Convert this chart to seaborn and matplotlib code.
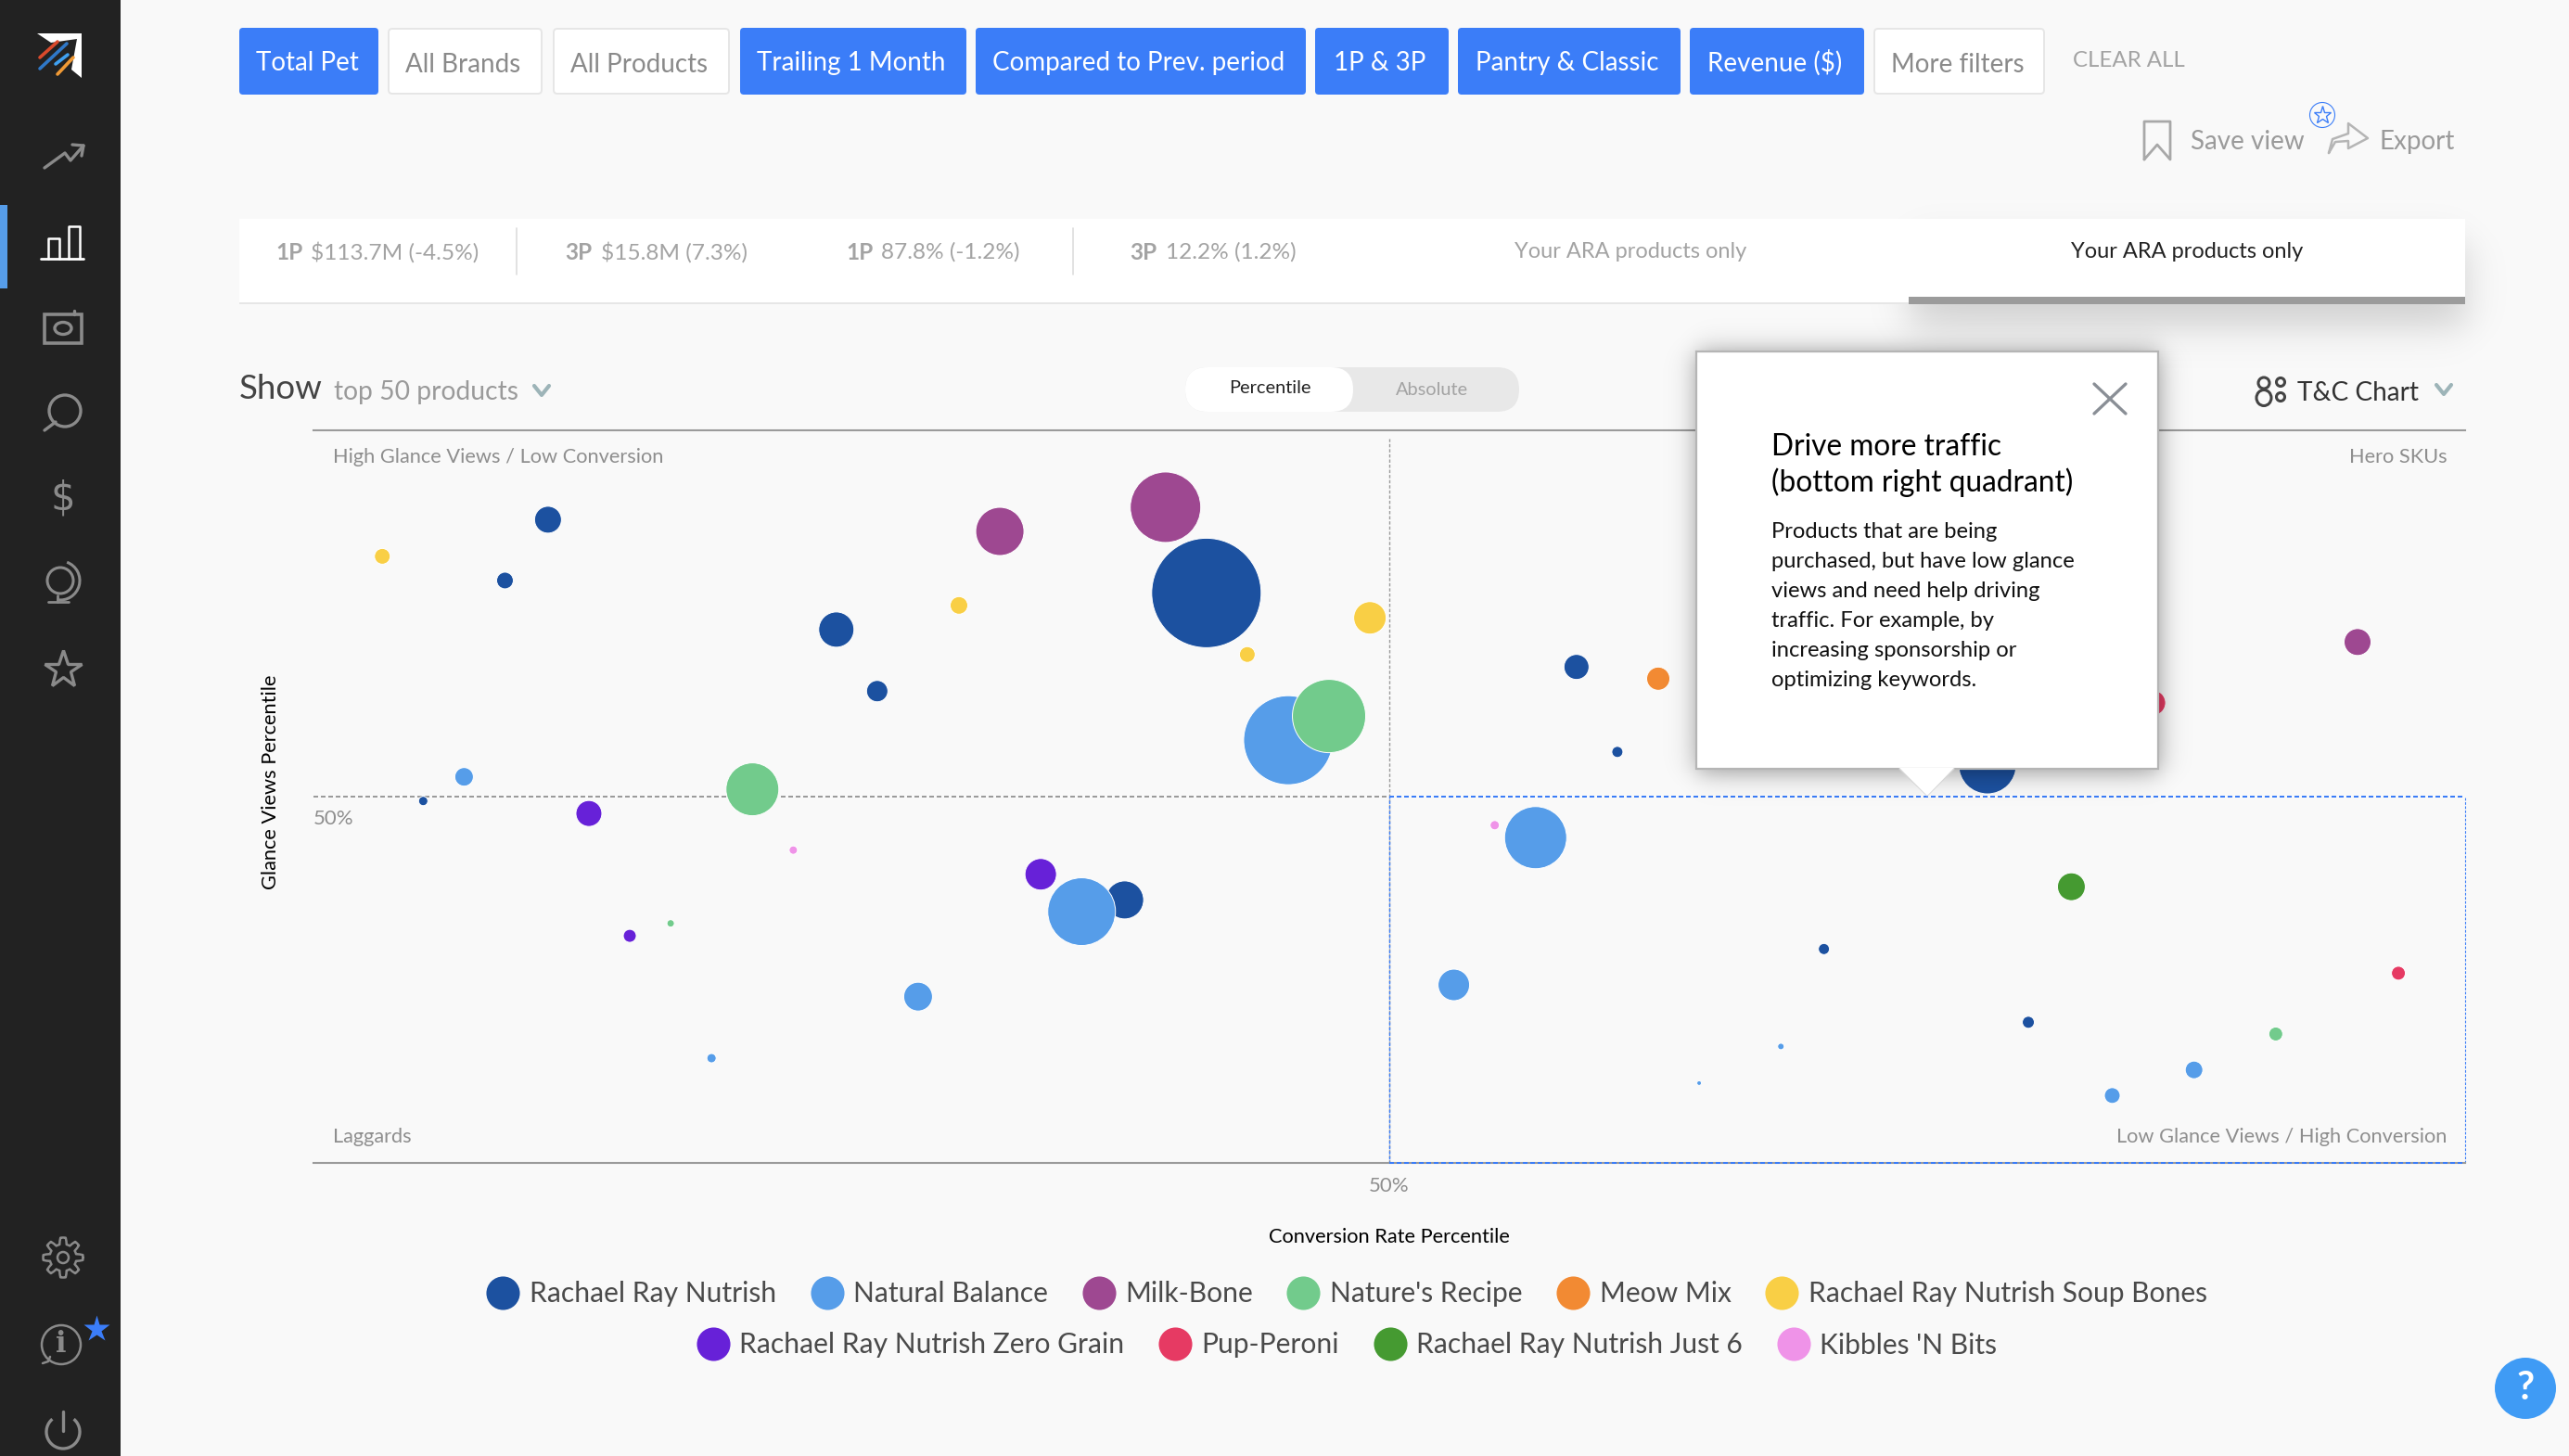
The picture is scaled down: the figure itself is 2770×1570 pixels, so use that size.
#Import Libraries
import numpy as np
import pandas as pd
import matplotlib
matplotlib.use("Agg")
import matplotlib.pyplot as plt
import seaborn as sns
from matplotlib.lines import Line2D
from matplotlib.patches import Circle, FancyBboxPatch, Polygon, Rectangle, Ellipse, Arc

#Chart data: percentile x, percentile y, bubble diameter for each brand
brands = ["Rachael Ray Nutrish", "Natural Balance", "Milk-Bone", "Nature's Recipe", "Meow Mix",
          "Rachael Ray Nutrish Soup Bones", "Rachael Ray Nutrish Zero Grain", "Pup-Peroni",
          "Rachael Ray Nutrish Just 6", "Kibbles 'N Bits"]
brand_colors = ["#1C51A0", "#569DE9", "#9E4891", "#72CB8C", "#F28A33",
                "#F9CF45", "#6721D8", "#E63A63", "#459A31", "#EF93E8"]

nutrish_x = [10.9, 8.9, 41.5, 24.3, 26.2, 5.1, 37.7, 58.7, 60.6, 77.8, 70.2, 79.7]
nutrish_y = [87.8, 79.5, 77.8, 72.8, 64.4, 49.4, 35.9, 67.7, 56.1, 54.3, 29.2, 19.2]
nutrish_size = [29, 18, 118, 38, 23, 10, 41, 27, 12, 62, 12, 13]

balance_x = [45.3, 7.0, 35.7, 28.1, 18.5, 56.8, 53.0, 68.2, 87.4, 83.6, 64.4]
balance_y = [57.7, 52.7, 34.3, 22.7, 14.3, 44.4, 24.3, 15.9, 12.7, 9.2, 10.9]
balance_size = [96, 20, 73, 31, 10, 67, 34, 7, 19, 17, 5]

milkbone_x = [39.6, 31.9, 95.0]
milkbone_y = [89.5, 86.2, 71.1]
milkbone_size = [76, 52, 29]

recipe_x = [47.2, 20.4, 16.6, 91.2]
recipe_y = [61.0, 51.0, 32.7, 17.6]
recipe_size = [79, 57, 8, 15]

meow_x = [62.5]
meow_y = [66.1]
meow_size = [25]

soup_x = [3.2, 30.0, 49.1, 43.4]
soup_y = [82.8, 76.1, 74.4, 69.4]
soup_size = [17, 19, 35, 17]

zero_x = [12.8, 33.8, 14.7]
zero_y = [47.7, 39.4, 31.0]
zero_size = [28, 34, 14]

peroni_x = [85.5, 96.9]
peroni_y = [62.8, 25.9]
peroni_size = [27, 15]

just6_x = [81.7]
just6_y = [37.7]
just6_size = [30]

kibbles_x = [22.3, 54.9]
kibbles_y = [42.7, 46.1]
kibbles_size = [9, 10]

all_x = [nutrish_x, balance_x, milkbone_x, recipe_x, meow_x, soup_x, zero_x, peroni_x, just6_x, kibbles_x]
all_y = [nutrish_y, balance_y, milkbone_y, recipe_y, meow_y, soup_y, zero_y, peroni_y, just6_y, kibbles_y]
all_size = [nutrish_size, balance_size, milkbone_size, recipe_size, meow_size,
            soup_size, zero_size, peroni_size, just6_size, kibbles_size]

frames = []
for name, xs, ys, ss in zip(brands, all_x, all_y, all_size):
    frames.append(pd.DataFrame({"brand": name, "conversion": xs, "glance": ys, "size": ss}))
df = pd.concat(frames, ignore_index=True)
df["area"] = df["size"] ** 2

BG = "#F9F9F9"
BLUE = "#3B7DF8"
GREY = "#9B9B9B"
TEXT = "#8E8E8E"
W, H = 2770, 1570
DPI = 200
DASH = (0, (2.5, 1.5))

sns.set_theme(style="white")
plt.rcParams["font.family"] = ["Lato", "DejaVu Sans"]

fig = plt.figure(figsize=(W / DPI, H / DPI), dpi=DPI, facecolor=BG)

#Scatter axes, pixel box 338..2658 x 464..1254
ax = fig.add_axes([338 / W, 1 - 1254 / H, 2320 / W, 790 / H], facecolor="none")

# quadrant guides and the highlighted bottom right quadrant
ax.plot([0, 50], [50, 50], color=GREY, lw=0.72, ls=DASH, zorder=1)
ax.plot([50, 50], [0, 98.8], color=GREY, lw=0.5, ls=DASH, zorder=1)
ax.plot([50, 100], [50, 50], color=BLUE, lw=0.72, ls=DASH, zorder=1.2)
ax.plot([50, 100], [0, 0], color=BLUE, lw=0.72, ls=DASH, zorder=3, clip_on=False)
ax.plot([50, 50], [0, 50], color=BLUE, lw=0.5, ls=(1, (2.5, 1.5)), zorder=1.2)
ax.plot([100, 100], [0, 50], color=BLUE, lw=0.4, ls=DASH, zorder=1.2, clip_on=False)

sns.scatterplot(data=df, x="conversion", y="glance", hue="brand", hue_order=brands,
                palette=brand_colors, size="area", sizes=(0, 1814.4), size_norm=(0, 14000),
                edgecolor="white", linewidth=0.35, legend=False, ax=ax, zorder=2)

ax.set_xlim(0, 100)
ax.set_ylim(0, 100)
ax.set_xticks([50], ["50%"], fontsize=8, color=TEXT)
ax.set_yticks([])
ax.tick_params(axis="x", length=0, pad=5.5)
ax.set_xlabel("Conversion Rate Percentile", fontsize=7.85, color="black", labelpad=12.5)
ax.set_ylabel("Glance Views Percentile", fontsize=7.85, color="black")
ax.yaxis.set_label_coords(-0.0157, 0.52)
sns.despine(ax=ax, left=True, right=True)
for side in ["top", "bottom"]:
    ax.spines[side].set_visible(True)
    ax.spines[side].set_color(GREY)
    ax.spines[side].set_linewidth(0.75)

ax.text(0.9, 96.3, "High Glance Views / Low Conversion", fontsize=7.85, color=TEXT, va="center")
ax.text(99.15, 96.3, "Hero SKUs", fontsize=7.85, color=TEXT, va="center", ha="right")
ax.text(0.9, 3.5, "Laggards", fontsize=7.85, color=TEXT, va="center")
ax.text(99.15, 3.5, "Low Glance Views / High Conversion", fontsize=7.85, color=TEXT, va="center", ha="right")
ax.text(0, 47, "50%", fontsize=8, color=TEXT, va="center")

#Legend in two centred rows
handles = [Line2D([], [], ls="", marker="o", ms=13, mfc=c, mec="none") for c in brand_colors]
leg_kw = dict(loc="center", frameon=False, fontsize=10.8, handlelength=1.2, handletextpad=0.35,
              columnspacing=1.22, borderpad=0, labelcolor="#4A4A4A", bbox_transform=fig.transFigure)
row1 = ax.legend(handles[:6], brands[:6], ncol=6, bbox_to_anchor=(1452 / W, 1 - 1395 / H), **leg_kw)
ax.add_artist(row1)
ax.legend(handles[6:], brands[6:], ncol=4, bbox_to_anchor=(1452 / W, 1 - 1450.5 / H), **leg_kw)

#Page furniture on a full size axes in pixel coordinates
ui = fig.add_axes([0, 0, 1, 1], facecolor="none", zorder=5)
ui.set_xlim(0, W)
ui.set_ylim(H, 0)
ui.set_autoscale_on(False)
ui.axis("off")


def txt(x, y, s, size=10, color=TEXT, ha="left", weight="normal", z=5):
    ui.text(x, y + 2, s, fontsize=size, color=color, ha=ha, va="center", weight=weight, zorder=z)


def box(x0, y0, x1, y1, fc, ec="none", lw=0, z=1, alpha=None):
    ui.add_patch(Rectangle((x0, y0), x1 - x0, y1 - y0, fc=fc, ec=ec, lw=lw, zorder=z, alpha=alpha))


def pill(x0, y0, x1, y1, fc, ec="none", lw=0, r=4, z=1):
    ui.add_patch(FancyBboxPatch((x0 + r, y0 + r), x1 - x0 - 2 * r, y1 - y0 - 2 * r,
                                boxstyle=f"round,pad={r},rounding_size={r}", fc=fc, ec=ec, lw=lw, zorder=z))


def line(xs, ys, color="#8A8A8A", lw=1.0, z=3):
    ui.plot(xs, ys, color=color, lw=lw, solid_capstyle="round", solid_joinstyle="round", zorder=z)


def shadow(x0, y0, x1, y1, soft, strength, z=0.5):
    # soft edged dark box drawn as an RGBA image
    m = int(soft * 4)
    xs = np.arange(x0 - m, x1 + m, 2)
    ys = np.arange(y0 - m, y1 + m, 2)
    ax_x = 0.5 * (np.tanh((xs - x0) / soft) - np.tanh((xs - x1) / soft))
    ax_y = 0.5 * (np.tanh((ys - y0) / soft) - np.tanh((ys - y1) / soft))
    img = np.zeros((len(ys), len(xs), 4))
    img[..., 3] = strength * np.outer(ax_y, ax_x)
    ui.imshow(img, extent=(x0 - m, x1 + m, y1 + m, y0 - m), aspect="auto", zorder=z, interpolation="bilinear")


def chevron(x, y):
    line([x - 8, x, x + 8], [y - 5, y + 5, y - 5], color="#9DB4B8", lw=1.5)


# sidebar
box(0, 0, 130, H, "#222222")
box(0, 221, 8, 311, "#569DE9", z=2)

# logo
ui.add_patch(Polygon([[40, 36], [88, 36], [88, 84], [77, 75], [83, 42], [55, 46]], fc="white", ec="none", zorder=3))
line([43, 62], [62, 45], color="#DA4A2C", lw=1.3, z=4)
line([43, 72], [74, 47], color="#2F78C8", lw=1.3, z=4)
line([60, 73], [69, 59], color="#3FA0F0", lw=1.3, z=4)
line([62, 79], [80, 62], color="#F09A35", lw=1.3, z=4)

# trend
line([48, 70, 76, 90], [181, 165, 173, 157], lw=1.2)
line([78, 90, 88], [156, 157, 168], lw=1.2)

# bars
line([44, 90], [279, 279], color="white", lw=1.0)
line([52, 52, 64, 64], [279, 257, 257, 279], color="white", lw=0.9)
line([74, 74, 86, 86], [279, 244, 244, 279], color="white", lw=0.9)

# camera
ui.add_patch(Rectangle((48, 339), 40, 31, fc="none", ec="#8A8A8A", lw=1.3, zorder=3))
ui.add_patch(Ellipse((68, 354), 18, 13, fc="none", ec="#8A8A8A", lw=1.2, zorder=3))
line([80, 80], [335, 339], lw=1.2)

# search
ui.add_patch(Circle((70, 443), 17, fc="none", ec="#8A8A8A", lw=1.2, zorder=3))
line([48, 60], [464, 455], lw=1.2)

# dollar, globe, star
ui.text(68, 537, "$", fontsize=15, color="#8A8A8A", ha="center", va="center", family="DejaVu Sans")
ui.add_patch(Circle((65, 626), 14, fc="none", ec="#8A8A8A", lw=1.1, zorder=3))
ui.add_patch(Arc((65, 626), 42, 42, theta1=-70, theta2=100, ec="#8A8A8A", lw=1.1, zorder=3))
line([62, 62], [642, 649])
line([52, 74], [649, 649])
ui.plot(68, 722, marker="*", ms=15, mfc="none", mec="#8A8A8A", mew=1.2, zorder=3)

# gear
ang = np.linspace(0, 2 * np.pi, 97)
gear_r = 18 + 3.5 * np.clip(np.cos(8 * ang) * 2, -1, 1)
line(68 + gear_r * np.cos(ang), 1356 + gear_r * np.sin(ang), lw=0.9)
ui.add_patch(Circle((68, 1356), 6, fc="none", ec="#8A8A8A", lw=0.9, zorder=3))

# info
ui.add_patch(Circle((66, 1450), 21, fc="none", ec="#8A8A8A", lw=0.9, zorder=3))
line([46, 52, 54], [1470, 1468, 1463], lw=0.9)
ui.text(66, 1450, "i", fontsize=11, color="#8A8A8A", ha="center", va="center", weight="bold", family="DejaVu Serif")
ui.plot(104, 1433, marker="*", ms=10.5, mfc=BLUE, mec="none", zorder=3)

# power
ui.add_patch(Arc((68, 1544), 36, 36, theta1=-50, theta2=230, ec="#8A8A8A", lw=1.2, zorder=3))
line([68, 68], [1522, 1543], lw=1.2)

# filter buttons
filter_labels = ["Total Pet", "All Brands", "All Products", "Trailing 1 Month", "Compared to Prev. period",
                 "1P & 3P", "Pantry & Classic", "Revenue ($)", "More filters"]
filter_x0 = [258, 418, 596, 798, 1052, 1418, 1572, 1822, 2020]
filter_x1 = [408, 585, 787, 1042, 1408, 1562, 1812, 2010, 2205]
filter_on = [True, False, False, True, True, True, True, True, False]
for label, x0, x1, on in zip(filter_labels, filter_x0, filter_x1, filter_on):
    if on:
        pill(x0, 30, x1, 102, BLUE)
        txt((x0 + x1) / 2 - 2, 66, label, 10.0, "white", "center")
    else:
        pill(x0 + 1, 31, x1 - 1, 101, "white", "#E6E6E6", 0.7)
        txt((x0 + x1) / 2 - 2, 68, label, 10.0, "#8A8A8A", "center")
txt(2235, 63, "CLEAR ALL", 8.65, "#A3A3A3")

# save view and export
line([2312, 2312, 2340, 2340, 2326, 2312], [172, 131, 131, 172, 156, 172], color="#A8A8A8", lw=1.0)
txt(2362, 151, "Save view", 10, "#9A9A9A")
ui.add_patch(Circle((2504, 124), 13.5, fc="none", ec=BLUE, lw=0.4, zorder=3))
ui.plot(2504, 124, marker="*", ms=7, mfc="none", mec=BLUE, mew=0.5, zorder=3)
line([2511, 2515, 2532, 2532, 2553, 2532, 2532, 2518, 2511], [165, 150, 144, 133, 149, 160, 152, 153, 165],
     color="#B5B5B5", lw=0.9)
txt(2566, 151, "Export", 10, "#9A9A9A")

# summary strip
shadow(2058, 262, 2658, 352, 24, 0.16, z=0.5)
box(258, 236, 2058, 328, "white")
box(258, 326, 2058, 328, "#E6E6E6", z=1.5)
box(2058, 236, 2658, 328, "white", z=1.2)
box(2058, 320, 2658, 328, GREY, z=1.5)
for sx in [557, 1157]:
    line([sx, sx], [246, 296], color="#DDDDDD", lw=0.6)
strip_tag_x = [297, 609, 912, 1218]
strip_tag = ["1P", "3P", "1P", "3P"]
strip_value_x = [335, 648, 950, 1257]
strip_value = ["$113.7M (-4.5%)", "$15.8M (7.3%)", "87.8% (-1.2%)", "12.2% (1.2%)"]
for tx, tag, vx, val in zip(strip_tag_x, strip_tag, strip_value_x, strip_value):
    txt(tx, 270, tag, 8.8, "#A3A3A3", weight="bold")
    txt(vx, 270, val, 8.8, "#A3A3A3")
txt(1758, 270, "Your ARA products only", 8.5, "#A3A3A3", "center")
txt(2358, 270, "Your ARA products only", 8.5, "#222222", "center")

# show selector and toggle
txt(258, 418, "Show", 13.2, "#444444")
txt(360, 421, "top 50 products", 10.2, "#9A9A9A")
chevron(584, 421)
pill(1278, 396, 1638, 444, "#E8E8E8", r=24)
pill(1278, 396, 1459, 444, "white", r=24, z=1.5)
txt(1369, 417, "Percentile", 7.2, "#222222", "center")
txt(1544, 419, "Absolute", 7.2, "#A3A3A3", "center")

# chart type selector
ui.add_patch(Ellipse((2441, 429), 16, 17, fc="none", ec="#444444", lw=1.1, zorder=3))
ui.add_patch(Ellipse((2441, 413), 12, 12, fc="none", ec="#444444", lw=1.1, zorder=3))
ui.add_patch(Circle((2459, 412), 4.5, fc="none", ec="#444444", lw=1.1, zorder=3))
ui.add_patch(Circle((2459, 428), 4.5, fc="none", ec="#444444", lw=1.1, zorder=3))
txt(2477, 421.5, "T&C Chart", 10.1, "#333333")
chevron(2635, 420)

# popup
shadow(1829, 379, 2327, 832, 16, 0.42, z=2)
box(1829, 379, 2327, 829, "white", ec="#B5B5B5", lw=0.8, z=3)
ui.add_patch(Polygon([[2048, 828], [2107, 828], [2078, 858]], fc="white", ec="none", zorder=3.2))
line([2048, 2078, 2107], [829, 858, 829], color="#D5D5D5", lw=0.5, z=3.1)
line([2258, 2292], [414, 446], color="#8A8F96", lw=1.2, z=4)
line([2258, 2292], [446, 414], color="#8A8F96", lw=1.2, z=4)
for ty, s in zip([480, 518], ["Drive more traffic", "(bottom right quadrant)"]):
    txt(1910, ty, s, 11.4, "black")
popup_lines = ["Products that are being", "purchased, but have low glance", "views and need help driving",
               "traffic. For example, by", "increasing sponsorship or", "optimizing keywords."]
for ty, s in zip([571, 603, 635, 667, 699, 731], popup_lines):
    txt(1910, ty, s, 8.55, "#111111")

# help button
ui.add_patch(Circle((2723, 1497), 33, fc="#3F9BF5", ec="none", zorder=3))
ui.text(2723, 1497, "?", fontsize=15, color="white", ha="center", va="center", weight="bold", zorder=4)

fig.savefig("out.png", dpi=DPI, facecolor=BG)
